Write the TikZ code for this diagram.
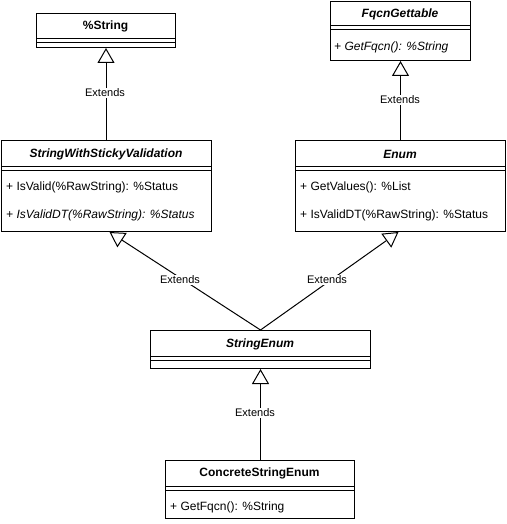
\documentclass[tikz,border=0pt]{standalone}
\usepackage{fontspec}
\setmainfont{Liberation Sans}
\usetikzlibrary{arrows.meta}
\begin{document}
\begin{tikzpicture}[x=1pt,y=-1pt,
  classbox/.style={draw=black,line width=1pt,fill=white,inner sep=0pt,anchor=north west},
  title/.style={font=\fontsize{12}{14}\selectfont\bfseries,inner sep=0pt},
  atitle/.style={font=\fontsize{12}{14}\selectfont\bfseries\itshape,inner sep=0pt},
  member/.style={font=\fontsize{12}{14}\selectfont,inner sep=0pt,anchor=west},
  amember/.style={font=\fontsize{12}{14}\selectfont\itshape,inner sep=0pt,anchor=west},
  sep/.style={line width=1pt},
  extends/.style={line width=1pt,-{Triangle[open,length=15pt,width=17pt,line width=1pt]}},
  lbl/.style={font=\fontsize{11}{13}\selectfont,fill=white,inner sep=1pt}
]
\useasboundingbox (0,0) rectangle (506,524);

% %String
\node[classbox,minimum width=139pt,minimum height=34pt] (str) at (36,13) {};
\node[title] (strT) at (105.5,26) {\%String};
\draw[sep] (36,39) -- (175,39);
\draw[sep] (36,43) -- (175,43);

% FqcnGettable
\node[classbox,minimum width=140pt,minimum height=59pt] (fq) at (330,1) {};
\node[atitle] (fqT) at (400,14) {FqcnGettable};
\draw[sep] (330,26) -- (470,26);
\draw[sep] (330,30) -- (470,30);
\node[amember] (fqM) at (334,47) {+ GetFqcn(): \%String};

% StringWithStickyValidation
\node[classbox,minimum width=210pt,minimum height=91pt] (sw) at (1,140) {};
\node[atitle] (swT) at (106,154) {StringWithStickyValidation};
\draw[sep] (1,166) -- (211,166);
\draw[sep] (1,170) -- (211,170);
\node[member] (swM1) at (6,187) {+ IsValid(\%RawString): \%Status};
\node[amember] (swM2) at (6,215) {+ IsValidDT(\%RawString): \%Status};

% Enum
\node[classbox,minimum width=210pt,minimum height=91pt] (en) at (295,140) {};
\node[atitle] (enT) at (400,154) {Enum};
\draw[sep] (295,166) -- (505,166);
\draw[sep] (295,170) -- (505,170);
\node[member] (enM1) at (300,187) {+ GetValues(): \%List};
\node[member] (enM2) at (300,215) {+ IsValidDT(\%RawString): \%Status};

% StringEnum
\node[classbox,minimum width=220pt,minimum height=38pt] (se) at (150,330) {};
\node[atitle] (seT) at (260,344) {StringEnum};
\draw[sep] (150,356) -- (370,356);
\draw[sep] (150,360) -- (370,360);

% ConcreteStringEnum
\node[classbox,minimum width=189pt,minimum height=58pt] (cs) at (165,460) {};
\node[title] (csT) at (259.5,473) {ConcreteStringEnum};
\draw[sep] (165,486) -- (354,486);
\draw[sep] (165,490) -- (354,490);
\node[member] (csM) at (170,507) {+ GetFqcn(): \%String};

% Generalizations
\draw[extends] (sw.north -| str.south) -- (str.south);
\node[lbl] (l1) at (105,93) {Extends};
\draw[extends] (en.north) -- (en.north |- fq.south);
\node[lbl] (l2) at (400,100) {Extends};
\draw[extends] (se.north) -- ([xshift=3pt]sw.south);
\node[lbl] (l3) at (180,280) {Extends};
\draw[extends] (se.north) -- ([xshift=-2pt]en.south);
\node[lbl] (l4) at (327,280) {Extends};
\draw[extends] (cs.north -| se.south) -- (se.south);
\node[lbl] (l5) at (255,413) {Extends};
\end{tikzpicture}
\end{document}
